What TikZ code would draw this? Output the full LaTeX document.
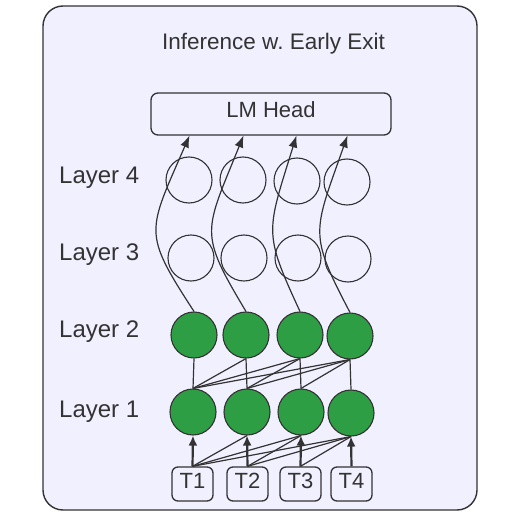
\documentclass[tikz,border=0pt]{standalone}
\usepackage{fontspec}
\setmainfont{Liberation Sans}
\usetikzlibrary{arrows.meta}
\definecolor{ink}{HTML}{333333}
\definecolor{panel}{HTML}{F1F0FF}
\definecolor{leaf}{RGB}{45,158,68}
\begin{document}
\begin{tikzpicture}[x=1pt,y=-1pt,
  panelbox/.style={draw=ink, line width=1.4pt, fill=panel, rounded corners=20pt},
  neuron/.style={circle, draw=ink, line width=1.1pt, minimum size=46pt, inner sep=0pt},
  active/.style={neuron, fill=leaf},
  tokbox/.style={draw=ink, line width=1.3pt, fill=panel, rounded corners=6pt, minimum width=41pt, minimum height=34pt, inner sep=0pt, text=ink, font=\fontsize{22}{24}\selectfont, text height=15.8pt, text depth=7.6pt},
  headbox/.style={draw=ink, line width=1.3pt, fill=panel, rounded corners=7pt, minimum width=240pt, minimum height=42pt, inner sep=0pt, text=ink, font=\fontsize{22}{26}\selectfont, text height=15.8pt, text depth=8.4pt},
  titletext/.style={inner sep=0pt, text=ink, font=\fontsize{22.5}{27}\selectfont},
  layertext/.style={inner sep=0pt, text=ink, font=\fontsize{24}{28}\selectfont},
  thinedge/.style={draw=ink, line width=1.2pt},
  thickarrow/.style={draw=ink, line width=2.2pt, -{Latex[length=10pt,width=9pt]}},
  curvearrow/.style={draw=ink, line width=1.2pt, -{Latex[length=12pt,width=9pt]}}
]
\useasboundingbox (0,0) rectangle (517,516);
\fill[white] (0,0) rectangle (517,516);
\draw[panelbox] (43,6) rectangle (477,510);

\node[titletext, anchor=base] (title) at (273.5,49.3) {Inference w.\ Early Exit};
\node[headbox] (lm) at (271,114) {LM Head};

\node[layertext, anchor=base west] (lab4) at (59,183) {Layer 4};
\node[layertext, anchor=base west] (lab3) at (59,260) {Layer 3};
\node[layertext, anchor=base west] (lab2) at (59,337) {Layer 2};
\node[layertext, anchor=base west] (lab1) at (59,417) {Layer 1};

% layer 4 (idle)
\node[neuron] (c41) at (189,180) {};
\node[neuron] (c42) at (243,180) {};
\node[neuron] (c43) at (297,181) {};
\node[neuron] (c44) at (347,182) {};
% layer 3 (idle)
\node[neuron] (c31) at (191,258) {};
\node[neuron] (c32) at (244,258) {};
\node[neuron] (c33) at (298,258) {};
\node[neuron] (c34) at (348,259) {};
% layer 2
\node[active] (c21) at (194,335) {};
\node[active] (c22) at (246,335) {};
\node[active] (c23) at (300,335) {};
\node[active] (c24) at (350,336) {};
% layer 1
\node[active] (c11) at (193,412) {};
\node[active] (c12) at (247,412) {};
\node[active] (c13) at (301,412) {};
\node[active] (c14) at (351,413) {};

% tokens
\node[tokbox] (t1) at (192.5,484) {T1};
\node[tokbox] (t2) at (247.5,484) {T2};
\node[tokbox] (t3) at (300.5,484) {T3};
\node[tokbox] (t4) at (351.5,484) {T4};

% exits on LM head
\coordinate (h1) at (189.5,135.5);
\coordinate (h2) at (243.5,135.5);
\coordinate (h3) at (296.5,135.5);
\coordinate (h4) at (347.5,135.5);

% tokens -> layer 1
\foreach \i/\j in {1/2,1/3,1/4,2/3,2/4,3/4}
  \draw[thinedge] (t\i.north) -- (c1\j.south);
\foreach \i in {1,...,4}
  \draw[thickarrow] (t\i.north) -- (c1\i.south);

% layer 1 -> layer 2
\foreach \i/\j in {1/1,1/2,1/3,1/4,2/2,2/3,2/4,3/3,3/4,4/4}
  \draw[thinedge] (c1\i.north) -- (c2\j.south);

% early exit to LM head
\draw[curvearrow] (c21.north) .. controls +(-52,-80) and +(-42,97) .. (h1);
\draw[curvearrow] (c22.north) .. controls +(-48,-80) and +(-39,97) .. (h2);
\draw[curvearrow] (c23.north) .. controls +(-37,-80) and +(-30,97) .. (h3);
\draw[curvearrow] (c24.north) .. controls +(-42,-80) and +(-34,97) .. (h4);
\end{tikzpicture}
\end{document}
